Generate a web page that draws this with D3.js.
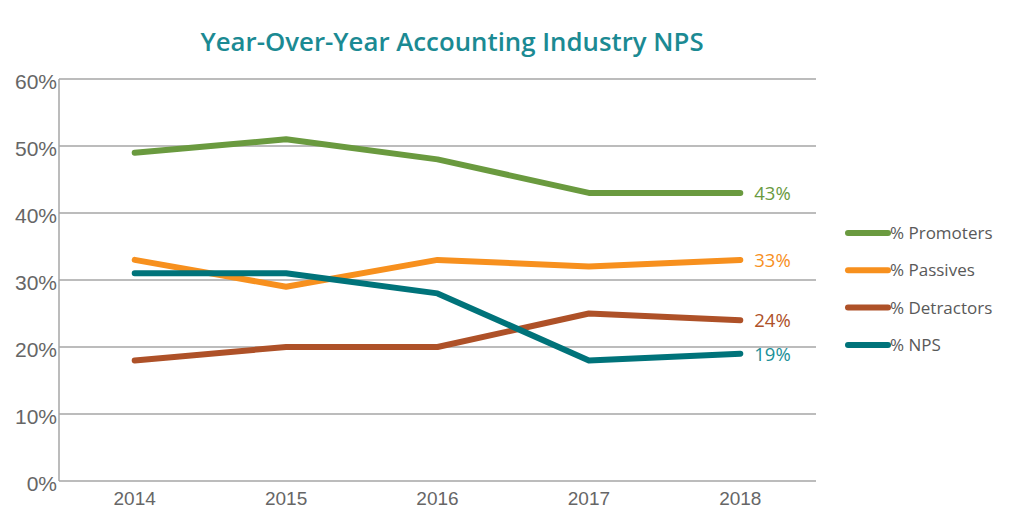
<!DOCTYPE html>
<meta charset="utf-8">
<script src="https://d3js.org/d3.v7.min.js"></script>
<style>
  body { margin: 0; background: #fff; }
</style>
<div id="chart"></div>
<script>
// data
var years = ["2014", "2015", "2016", "2017", "2018"];
var promoters = [49, 51, 48, 43, 43];
var passives = [33, 29, 33, 32, 33];
var detractors = [18, 20, 20, 25, 24];
var nps = [31, 31, 28, 18, 19];
var seriesNames = ["% Promoters", "% Passives", "% Detractors", "% NPS"];
var yTicks = [0, 10, 20, 30, 40, 50, 60];

var colors = ["#6a9a3f", "#f7901e", "#ae5128", "#00737a"];
var labelColors = ["#6a9a3f", "#f7901e", "#ae5128", "#1b8f98"];
var allSeries = [promoters, passives, detractors, nps];

var W = 1024, H = 523;
var margin = {top: 79, right: 208, bottom: 42, left: 59};

var svg = d3.select("#chart").append("svg")
  .attr("width", W)
  .attr("height", H);

var x = d3.scaleBand()
  .domain(years)
  .range([margin.left, W - margin.right]);

var y = d3.scaleLinear()
  .domain([0, 60])
  .range([H - margin.bottom, margin.top]);

// title
svg.append("text")
  .attr("x", 452)
  .attr("y", 51)
  .attr("text-anchor", "middle")
  .style("font-family", "'Open Sans', sans-serif")
  .style("font-weight", 600)
  .style("font-size", "25.8px")
  .style("fill", "#1b8a93")
  .text("Year-Over-Year Accounting Industry NPS");

// gridlines
svg.append("g")
  .selectAll("line")
  .data(yTicks)
  .join("line")
    .attr("x1", margin.left)
    .attr("x2", W - margin.right)
    .attr("y1", function(d) { return y(d); })
    .attr("y2", function(d) { return y(d); })
    .attr("stroke", "#a6a6a6")
    .attr("stroke-width", 1.5);

// y axis line
svg.append("line")
  .attr("x1", margin.left).attr("x2", margin.left)
  .attr("y1", y(60)).attr("y2", y(0))
  .attr("stroke", "#a6a6a6")
  .attr("stroke-width", 1.5);

// y labels
svg.append("g")
  .selectAll("text")
  .data(yTicks)
  .join("text")
    .attr("x", margin.left - 2)
    .attr("y", function(d) { return y(d) + 10; })
    .attr("text-anchor", "end")
    .style("font-family", "'Liberation Sans', Arial, sans-serif")
    .style("font-size", "21px")
    .style("fill", "#666")
    .text(function(d) { return d + "%"; });

// x labels
svg.append("g")
  .selectAll("text")
  .data(years)
  .join("text")
    .attr("x", function(d) { return x(d) + x.bandwidth() / 2; })
    .attr("y", y(0) + 24)
    .attr("text-anchor", "middle")
    .style("font-family", "'Liberation Sans', Arial, sans-serif")
    .style("font-size", "19px")
    .style("fill", "#666")
    .text(function(d) { return d; });

// lines
var line = d3.line()
  .x(function(d, i) { return x(years[i]) + x.bandwidth() / 2; })
  .y(function(d) { return y(d); });

svg.append("g")
  .selectAll("path")
  .data(allSeries)
  .join("path")
    .attr("d", line)
    .attr("fill", "none")
    .attr("stroke", function(d, i) { return colors[i]; })
    .attr("stroke-width", 6)
    .attr("stroke-linecap", "round")
    .attr("stroke-linejoin", "round");

// end labels
var lastX = x(years[years.length - 1]) + x.bandwidth() / 2;
svg.append("g")
  .selectAll("text")
  .data(allSeries)
  .join("text")
    .attr("x", lastX + 14)
    .attr("y", function(d) { return y(d[d.length - 1]) + 7; })
    .style("font-family", "'Open Sans', sans-serif")
    .style("font-size", "18.5px")
    .style("fill", function(d, i) { return labelColors[i]; })
    .text(function(d) { return d[d.length - 1] + "%"; });

// legend
var legend = svg.append("g")
  .selectAll("g")
  .data(seriesNames)
  .join("g")
    .attr("transform", function(d, i) { return "translate(848," + (233 + i * 37.3) + ")"; });

legend.append("line")
  .attr("x1", 0).attr("x2", 40)
  .attr("stroke", function(d, i) { return colors[i]; })
  .attr("stroke-width", 6)
  .attr("stroke-linecap", "round");

legend.append("text")
  .attr("x", 42)
  .attr("y", 6)
  .style("font-family", "'Open Sans', sans-serif")
  .style("font-size", "17px")
  .style("fill", "#595959")
  .text(function(d) { return d; });
</script>
